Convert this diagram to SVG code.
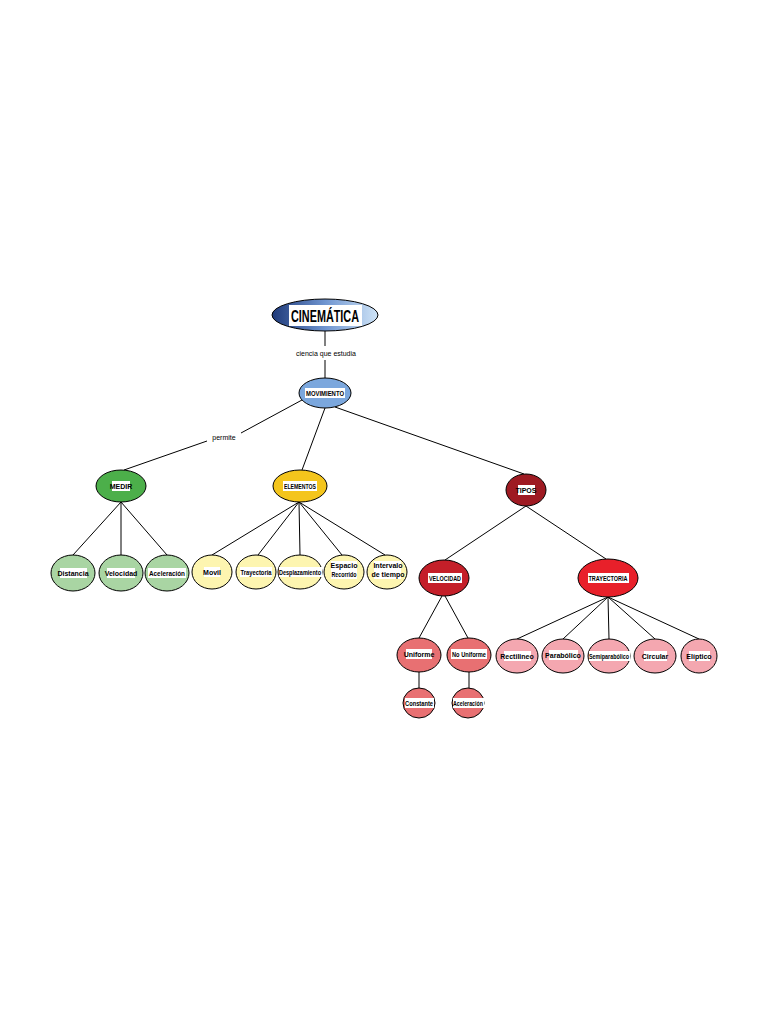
<svg xmlns="http://www.w3.org/2000/svg" width="768" height="1024" viewBox="0 0 768 1024">
<style>
.n{stroke:#000;stroke-width:1}
.t{font-family:"Liberation Sans",Arial,sans-serif;font-weight:bold;font-size:7px;text-anchor:middle;fill:#000}
.lb{fill:#fff}
.c{stroke:#000;stroke-width:1;fill:none}
.cl{font-family:"Liberation Sans",Arial,sans-serif;font-size:7px;text-anchor:middle;fill:#000}
</style>
<defs>
<linearGradient id="g" x1="0" x2="1" y1="0" y2="0">
<stop offset="0" stop-color="#1f3a7a"/><stop offset="0.5" stop-color="#6f95d0"/><stop offset="1" stop-color="#cfe4f7"/>
</linearGradient>
</defs>
<rect width="768" height="1024" fill="#fff"/>
<g id="connectors">
<line class="c" x1="325" y1="331" x2="325" y2="346"/>
<line class="c" x1="325" y1="360" x2="325" y2="378"/>
<text class="cl" x="326" y="356">ciencia que estudia</text>
<line class="c" x1="302" y1="400" x2="241" y2="433"/>
<line class="c" x1="207" y1="441" x2="124" y2="470"/>
<text class="cl" x="224" y="440">permite</text>
<line class="c" x1="325" y1="408" x2="302" y2="470"/>
<line class="c" x1="335" y1="407" x2="524" y2="474"/>
<line class="c" x1="121" y1="502" x2="73" y2="555"/>
<line class="c" x1="121" y1="502" x2="121" y2="555"/>
<line class="c" x1="121" y1="502" x2="167" y2="555"/>
<line class="c" x1="299" y1="502" x2="212" y2="555"/>
<line class="c" x1="299" y1="502" x2="258" y2="555"/>
<line class="c" x1="299" y1="502" x2="300" y2="555"/>
<line class="c" x1="299" y1="502" x2="342" y2="555"/>
<line class="c" x1="299" y1="502" x2="385" y2="555"/>
<line class="c" x1="526" y1="506" x2="445" y2="560"/>
<line class="c" x1="526" y1="506" x2="606" y2="559"/>
<line class="c" x1="442" y1="596" x2="419" y2="638"/>
<line class="c" x1="445" y1="596" x2="468" y2="638"/>
<line class="c" x1="419" y1="672" x2="419" y2="688"/>
<line class="c" x1="469" y1="672" x2="469" y2="688"/>
<line class="c" x1="608" y1="597" x2="517" y2="639"/>
<line class="c" x1="608" y1="597" x2="563" y2="639"/>
<line class="c" x1="608" y1="597" x2="609" y2="639"/>
<line class="c" x1="608" y1="597" x2="655" y2="639"/>
<line class="c" x1="608" y1="597" x2="699" y2="639"/>
</g>
<g id="cinematica"><ellipse class="n" cx="325" cy="315" rx="53" ry="16" fill="url(#g)"/><rect class="lb" x="289" y="305" width="73" height="21"/><text x="325" y="322" text-anchor="middle" font-family="Liberation Sans,Arial,sans-serif" font-weight="bold" font-size="16" textLength="68" lengthAdjust="spacingAndGlyphs">CINEMÁTICA</text></g>
<g id="movimiento"><ellipse class="n" cx="325" cy="393" rx="26" ry="15" fill="#7ba7dd"/><rect class="lb" x="305" y="388" width="40" height="10"/><text class="t" x="325" y="396" textLength="38" lengthAdjust="spacingAndGlyphs">MOVIMIENTO</text></g>
<g id="medir"><ellipse class="n" cx="121" cy="486" rx="25" ry="16" fill="#4caf4a"/><rect class="lb" x="112" y="481" width="18" height="10"/><text class="t" x="121" y="489">MEDIR</text></g>
<g id="elementos"><ellipse class="n" cx="300" cy="486" rx="27" ry="16" fill="#f4c51c"/><rect class="lb" x="283" y="481" width="34" height="10"/><text class="t" x="300" y="489" textLength="32" lengthAdjust="spacingAndGlyphs">ELEMENTOS</text></g>
<g id="tipos"><ellipse class="n" cx="526" cy="490" rx="20" ry="16" fill="#9e1a22"/><rect class="lb" x="518" y="485" width="17" height="10"/><text class="t" x="526" y="493">TIPOS</text></g>
<g id="distancia"><ellipse class="n" cx="73" cy="573" rx="22" ry="18" fill="#a9d5a3"/><rect class="lb" x="60" y="568" width="27" height="10"/><text class="t" x="73" y="576">Distancia</text></g>
<g id="velocidad1"><ellipse class="n" cx="121" cy="573" rx="22" ry="18" fill="#a9d5a3"/><rect class="lb" x="107" y="568" width="28" height="10"/><text class="t" x="121" y="576">Velocidad</text></g>
<g id="aceleracion1"><ellipse class="n" cx="167" cy="573" rx="22" ry="18" fill="#a9d5a3"/><rect class="lb" x="148" y="568" width="38" height="10"/><text class="t" x="167" y="576" textLength="36" lengthAdjust="spacingAndGlyphs">Aceleración</text></g>
<g id="movil"><ellipse class="n" cx="212" cy="572" rx="20" ry="17" fill="#fdf5b0"/><rect class="lb" x="204" y="567" width="16" height="10"/><text class="t" x="212" y="575">Movil</text></g>
<g id="trayectoria1"><ellipse class="n" cx="256" cy="572" rx="20" ry="17" fill="#fdf5b0"/><rect class="lb" x="240" y="567" width="32" height="10"/><text class="t" x="256" y="575" textLength="31" lengthAdjust="spacingAndGlyphs">Trayectoria</text></g>
<g id="desplazamiento"><ellipse class="n" cx="300" cy="572" rx="22" ry="17" fill="#fdf5b0"/><rect class="lb" x="279" y="567" width="43" height="10"/><text class="t" x="300" y="575" textLength="42" lengthAdjust="spacingAndGlyphs">Desplazamiento</text></g>
<g id="espacio"><ellipse class="n" cx="344" cy="572" rx="20" ry="17" fill="#fdf5b0"/><rect class="lb" x="331" y="561" width="26" height="18"/><text class="t" x="344" y="568">Espacio</text><text class="t" x="344" y="577" textLength="25" lengthAdjust="spacingAndGlyphs">Recorrido</text></g>
<g id="intervalo"><ellipse class="n" cx="387" cy="572" rx="20" ry="17" fill="#fdf5b0"/><rect class="lb" x="374" y="561" width="27" height="18"/><text class="t" x="388" y="568">Intervalo</text><text class="t" x="388" y="577">de tiempo</text></g>
<g id="velocidad"><ellipse class="n" cx="444" cy="578" rx="25" ry="18" fill="#c41f29"/><rect class="lb" x="428" y="573" width="34" height="10"/><text class="t" x="445" y="581" textLength="32" lengthAdjust="spacingAndGlyphs">VELOCIDAD</text></g>
<g id="trayectoria"><ellipse class="n" cx="608" cy="578" rx="30" ry="19" fill="#e8202a"/><rect class="lb" x="588" y="573" width="41" height="10"/><text class="t" x="608" y="581" textLength="39" lengthAdjust="spacingAndGlyphs">TRAYECTORIA</text></g>
<g id="uniforme"><ellipse class="n" cx="419" cy="655" rx="22" ry="17" fill="#e87072"/><rect class="lb" x="406" y="649" width="26" height="10"/><text class="t" x="419" y="657">Uniforme</text></g>
<g id="nouniforme"><ellipse class="n" cx="469" cy="655" rx="22" ry="17" fill="#e87072"/><rect class="lb" x="451" y="649" width="36" height="10"/><text class="t" x="469" y="657" textLength="34" lengthAdjust="spacingAndGlyphs">No Uniforme</text></g>
<g id="constante"><ellipse class="n" cx="419" cy="703" rx="16" ry="15" fill="#e87072"/><rect class="lb" x="405" y="698" width="29" height="10"/><text class="t" x="419" y="706" textLength="28" lengthAdjust="spacingAndGlyphs">Constante</text></g>
<g id="aceleracion2"><ellipse class="n" cx="468" cy="703" rx="16" ry="15" fill="#e87072"/><rect class="lb" x="453" y="698" width="31" height="10"/><text class="t" x="468" y="706" textLength="30" lengthAdjust="spacingAndGlyphs">Aceleración</text></g>
<g id="rectilineo"><ellipse class="n" cx="517" cy="656" rx="21" ry="17" fill="#f4a7b0"/><rect class="lb" x="504" y="651" width="27" height="10"/><text class="t" x="517" y="659">Rectilineo</text></g>
<g id="parabolico"><ellipse class="n" cx="563" cy="656" rx="21" ry="17" fill="#f4a7b0"/><rect class="lb" x="549" y="650" width="29" height="10"/><text class="t" x="563" y="658">Parabólico</text></g>
<g id="semiparabolico"><ellipse class="n" cx="609" cy="656" rx="21" ry="17" fill="#f4a7b0"/><rect class="lb" x="589" y="651" width="41" height="10"/><text class="t" x="609" y="659" textLength="40" lengthAdjust="spacingAndGlyphs">Semiparabólico</text></g>
<g id="circular"><ellipse class="n" cx="655" cy="656" rx="21" ry="17" fill="#f4a7b0"/><rect class="lb" x="644" y="651" width="23" height="10"/><text class="t" x="655" y="659">Circular</text></g>
<g id="eliptico"><ellipse class="n" cx="699" cy="656" rx="18" ry="17" fill="#f4a7b0"/><rect class="lb" x="689" y="651" width="21" height="10"/><text class="t" x="699" y="659">Elíptico</text></g>
</svg>
